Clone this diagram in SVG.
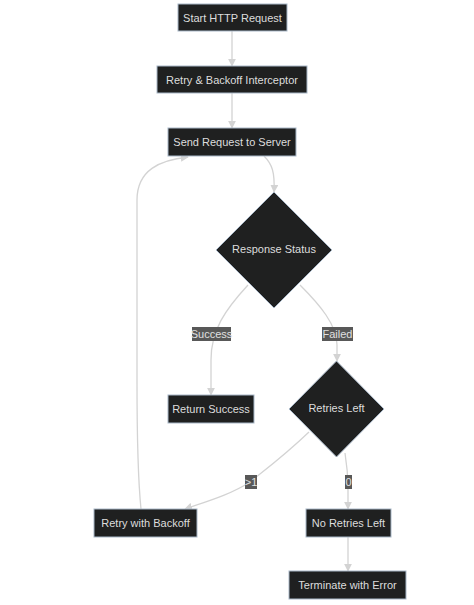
<svg xmlns="http://www.w3.org/2000/svg" width="474" height="605" viewBox="0 0 474 605">
<style>
.n{fill:#1f2020;stroke:#a9b8c8;stroke-width:1}
.t{font-family:"Liberation Sans",Arial,sans-serif;font-size:11px;fill:#dddddd;text-anchor:middle;dominant-baseline:central}
.e{fill:none;stroke:#d3d3d3;stroke-width:1.3}
.lb{fill:#585858}
.lt{font-family:"Liberation Sans",Arial,sans-serif;font-size:11px;fill:#e0e0e0;text-anchor:middle;dominant-baseline:central}
</style>
<defs>
<marker id="a" viewBox="0 0 10 10" refX="9" refY="5" markerWidth="8" markerHeight="8" orient="auto" markerUnits="userSpaceOnUse">
<path d="M0,0 L10,5 L0,10 z" fill="#d3d3d3"/>
</marker>
</defs>
<rect width="474" height="605" fill="#ffffff"/>
<g id="edges">
<path class="e" d="M232,31 L232,66" marker-end="url(#a)"/>
<path class="e" d="M232,93 L232,128" marker-end="url(#a)"/>
<path class="e" d="M264,156 C272,164 275,172 274,192" marker-end="url(#a)"/>
<path class="e" d="M248,285 C225,310 211,330 211,360 L211,395" marker-end="url(#a)"/>
<path class="e" d="M300,285 C320,305 337,325 337,345 L337,361" marker-end="url(#a)"/>
<path class="e" d="M309,432 C285,455 265,470 250,482 C230,495 205,502 185,509" marker-end="url(#a)"/>
<path class="e" d="M345,453 C347,465 348,475 348,490 L348,509" marker-end="url(#a)"/>
<path class="e" d="M348,537 L348,571" marker-end="url(#a)"/>
<path class="e" d="M141,509 C137,470 137,420 137,380 L137,200 C137,170 160,160 188,157" marker-end="url(#a)"/>
<rect class="lb" x="192" y="327" width="39" height="14"/>
<text class="lt" x="211.5" y="334">Success</text>
<rect class="lb" x="322" y="327" width="31" height="14"/>
<text class="lt" x="337.5" y="334">Failed</text>
<rect class="lb" x="245" y="475" width="12" height="14"/>
<text class="lt" x="251" y="482">&gt;1</text>
<rect class="lb" x="345" y="475" width="7" height="14"/>
<text class="lt" x="348.5" y="482">0</text>
</g>
<g id="start"><rect class="n" x="178" y="4" width="109" height="27"/><text class="t" x="232.5" y="17.5">Start HTTP Request</text></g>
<g id="interceptor"><rect class="n" x="157" y="66" width="150" height="27"/><text class="t" x="232" y="79.5">Retry &amp; Backoff Interceptor</text></g>
<g id="send"><rect class="n" x="168" y="128" width="128" height="28"/><text class="t" x="232" y="142">Send Request to Server</text></g>
<g id="status"><polygon class="n" points="274,192 332,250 274,308 216,250"/><text class="t" x="274" y="249">Response Status</text></g>
<g id="success"><rect class="n" x="168" y="395" width="86" height="28"/><text class="t" x="211" y="409">Return Success</text></g>
<g id="retries"><polygon class="n" points="336.5,361 384,409 336.5,457 289,409"/><text class="t" x="336.5" y="408">Retries Left</text></g>
<g id="backoff"><rect class="n" x="94" y="509" width="103" height="28"/><text class="t" x="145.5" y="523">Retry with Backoff</text></g>
<g id="noretries"><rect class="n" x="306" y="509" width="85" height="28"/><text class="t" x="348.5" y="523">No Retries Left</text></g>
<g id="terminate"><rect class="n" x="289" y="571" width="117" height="28"/><text class="t" x="347.5" y="585">Terminate with Error</text></g>
</svg>
